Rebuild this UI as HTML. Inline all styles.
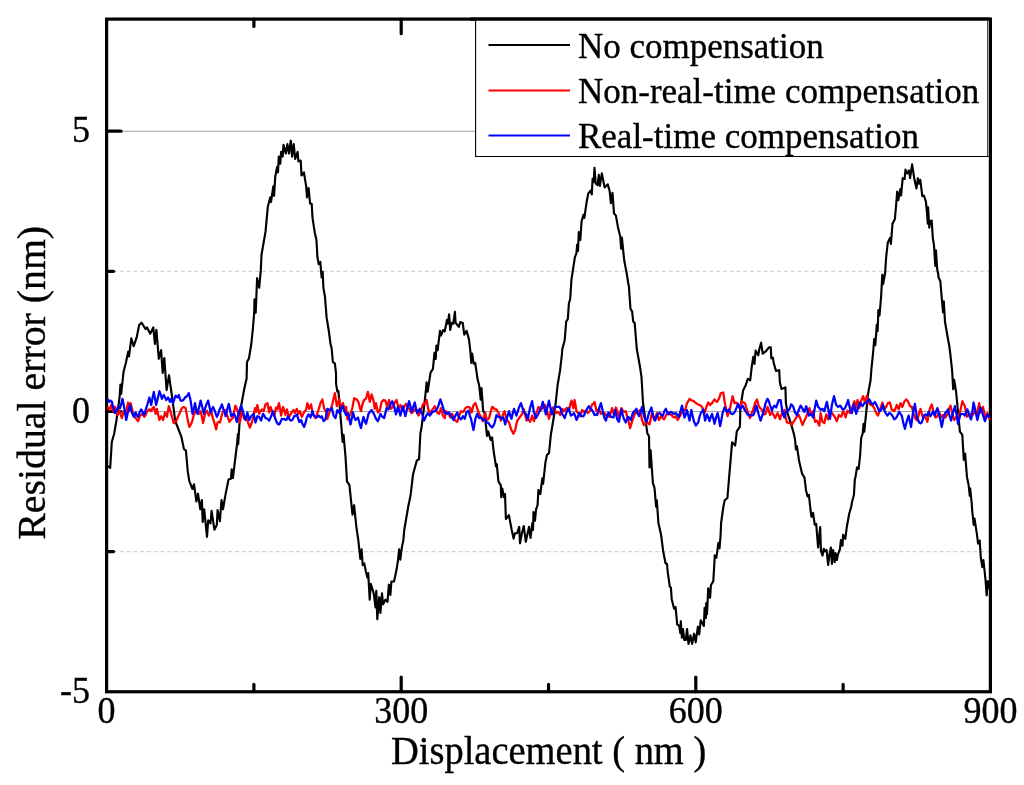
<!DOCTYPE html>
<html><head><meta charset="utf-8"><title>Residual error</title>
<style>
html,body{margin:0;padding:0;background:#fff;}
svg{display:block;}
text{font-family:"Liberation Serif",serif;fill:#000;stroke:#000;stroke-width:0.35px;}
</style></head><body>
<svg width="1024" height="785" viewBox="0 0 1024 785">
<rect x="0" y="0" width="1024" height="785" fill="#ffffff"/>
<!-- grid -->
<line x1="108" y1="131.21" x2="989" y2="131.21" stroke="#a0a0a0" stroke-width="1.1"/>
<line x1="108" y1="411.48" x2="989" y2="411.48" stroke="#a0a0a0" stroke-width="1.1"/>
<line x1="108" y1="271.34" x2="989" y2="271.34" stroke="#d4d4d4" stroke-width="1.1" stroke-dasharray="4 2.777" stroke-dashoffset="1.8"/>
<line x1="108" y1="551.61" x2="989" y2="551.61" stroke="#d4d4d4" stroke-width="1.1" stroke-dasharray="4 2.777" stroke-dashoffset="1.8"/>
<!-- frame -->
<rect x="106.6" y="19.1" width="883.80" height="672.65" fill="none" stroke="#000" stroke-width="3.2"/>
<!-- ticks -->
<g stroke="#000" stroke-width="3.2" stroke-linecap="round">
<line x1="106.6" y1="131.21" x2="121" y2="131.21"/>
<line x1="106.6" y1="411.48" x2="121" y2="411.48"/>
<line x1="106.6" y1="271.34" x2="113.5" y2="271.34"/>
<line x1="106.6" y1="551.61" x2="113.5" y2="551.61"/>
<line x1="401.2" y1="691.75" x2="401.2" y2="677.15"/>
<line x1="401.2" y1="19.1" x2="401.2" y2="33.7"/>
<line x1="695.8" y1="691.75" x2="695.8" y2="677.15"/>
<line x1="695.8" y1="19.1" x2="695.8" y2="33.7"/>
<line x1="253.9" y1="691.75" x2="253.9" y2="684.45"/>
<line x1="253.9" y1="19.1" x2="253.9" y2="26.400000000000002"/>
<line x1="548.5" y1="691.75" x2="548.5" y2="684.45"/>
<line x1="548.5" y1="19.1" x2="548.5" y2="26.400000000000002"/>
<line x1="843.1" y1="691.75" x2="843.1" y2="684.45"/>
<line x1="843.1" y1="19.1" x2="843.1" y2="26.400000000000002"/>
</g>
<!-- curves -->
<polyline fill="none" stroke="#000" stroke-width="2.15" stroke-linejoin="round" points="107.8,466.2 110.2,467.8 111.8,442.0 114.1,434.0 116.5,420.0 119.6,397.2 120.4,384.6 121.2,394.0 123.5,372.1 125.9,362.7 128.2,351.7 129.0,356.4 131.3,338.4 133.7,346.2 136.8,336.8 139.2,325.0 141.5,322.7 145.5,329.0 147.0,327.4 150.2,333.7 153.3,327.4 154.9,343.9 156.4,329.8 158.8,358.8 161.1,350.2 162.7,372.9 164.3,358.0 166.6,390.1 169.0,375.2 172.1,397.2 175.2,420.7 176.0,423.0 181.5,437.2 183.9,449.0 185.9,450.6 187.8,471.7 189.3,481.1 192.5,489.0 194.0,484.3 196.4,501.5 198.0,493.7 200.3,509.3 201.9,500.0 202.7,521.9 204.2,509.3 207.0,536.8 208.2,520.3 210.5,523.4 211.6,510.9 214.4,529.7 216.8,525.0 217.6,510.1 219.9,521.1 221.5,500.0 223.0,509.3 225.4,495.2 228.5,479.6 230.9,478.8 231.7,469.4 232.9,478.0 234.8,462.3 237.1,443.5 237.9,434.1 238.2,444.3 239.5,423.1 241.0,406.6 244.2,389.3 246.6,378.4 247.0,362.0 249.0,358.2 251.3,344.0 252.9,328.4 254.2,312.7 254.5,299.4 255.7,312.7 257.1,278.2 259.2,287.6 260.8,270.4 261.5,254.7 265.5,231.9 267.8,206.8 270.2,197.4 271.0,202.0 273.3,186.4 274.1,195.8 275.2,177.0 277.2,166.8 278.0,172.3 278.8,156.6 280.3,163.7 281.1,151.9 282.7,156.6 283.5,144.9 285.8,153.5 287.4,144.1 289.0,153.5 290.8,140.7 292.1,156.6 293.7,144.1 295.2,159.0 297.6,151.9 298.4,161.3 300.7,160.6 301.5,175.5 303.9,172.3 306.2,186.4 307.0,197.4 308.6,188.0 310.1,203.7 311.7,203.7 312.5,217.8 314.8,232.7 316.4,239.7 317.2,253.0 317.3,256.3 318.7,264.1 320.3,261.8 321.6,277.4 322.7,271.9 323.4,287.6 325.0,297.0 326.6,317.4 328.9,331.5 330.5,344.0 331.6,348.0 332.9,362.0 334.9,363.6 336.0,373.0 336.1,383.9 337.3,391.7 338.4,391.0 340.0,410.5 341.5,427.8 342.6,441.9 343.6,434.8 345.5,456.6 347.0,481.7 349.4,484.9 352.5,514.6 354.1,505.2 356.4,527.2 358.3,540.0 360.3,558.8 361.6,549.4 362.7,565.1 364.3,563.5 365.8,571.3 367.4,577.6 368.2,573.0 369.7,599.6 370.8,583.9 373.7,593.3 375.5,607.4 376.3,590.9 377.3,619.2 379.2,597.2 380.4,612.9 382.0,593.3 383.1,604.3 385.4,599.6 387.5,601.9 388.9,584.7 390.4,594.9 391.4,581.5 394.0,581.5 396.4,570.6 398.0,560.4 399.1,549.4 400.3,559.6 401.9,547.1 403.4,540.0 404.2,530.3 408.2,506.8 410.5,495.8 412.9,475.5 413.6,472.3 416.8,460.6 419.1,459.0 420.4,433.1 421.5,427.8 423.8,409.0 425.4,394.9 426.6,382.3 427.7,391.7 430.6,372.3 432.9,369.2 434.5,352.7 435.7,359.0 436.4,345.6 437.6,350.3 440.0,330.8 441.1,335.5 443.1,330.0 444.7,331.5 447.0,319.8 447.8,323.7 449.1,314.3 450.2,330.0 451.7,322.9 453.3,323.7 454.9,311.9 455.6,322.9 458.8,326.8 460.3,322.1 462.7,322.9 464.3,334.7 466.6,330.8 469.0,339.4 470.5,352.7 471.3,362.9 472.1,353.5 473.7,363.7 475.2,362.9 477.6,379.3 479.2,385.6 480.7,399.7 481.5,388.0 483.1,410.7 484.6,413.0 485.9,425.0 487.0,436.0 488.2,431.3 490.6,439.9 492.1,437.5 493.7,451.6 496.0,466.5 496.8,464.2 498.4,481.4 500.8,485.3 501.2,497.1 502.3,488.5 503.9,497.1 505.0,494.0 505.9,519.0 508.9,515.1 511.7,530.0 513.6,538.6 514.9,533.2 517.2,533.2 519.2,526.9 520.0,543.3 521.9,533.2 523.8,526.1 525.8,541.8 529.0,526.9 530.5,537.9 532.4,523.0 533.0,530.0 533.5,512.0 535.0,520.6 536.0,509.6 537.6,505.0 538.4,490.0 540.3,494.0 542.3,478.3 543.1,483.8 545.4,462.6 547.0,454.8 549.0,453.2 550.9,434.4 552.5,425.0 554.4,413.0 555.7,403.0 557.6,385.0 560.0,370.9 562.0,353.7 562.3,349.0 564.7,340.3 566.2,321.5 567.8,319.2 568.9,303.5 570.2,298.8 571.4,280.0 572.5,272.9 574.9,257.2 576.4,253.3 577.2,244.6 578.0,250.9 578.8,232.1 580.3,239.9 581.6,221.1 583.5,214.9 584.3,218.0 586.6,202.3 588.2,193.7 590.5,190.6 591.8,194.5 592.6,178.8 593.7,181.9 594.5,167.8 595.7,183.5 597.6,185.1 598.8,174.9 599.9,185.9 601.8,173.3 604.6,187.4 607.8,184.3 609.7,191.3 610.9,203.1 612.5,192.9 614.0,213.3 615.9,215.6 618.0,227.4 620.3,236.8 621.1,248.6 621.9,237.6 624.2,260.3 626.6,272.9 628.2,283.0 628.9,286.3 630.5,309.0 632.1,311.3 633.2,321.5 634.7,323.1 636.8,349.0 639.9,366.2 641.5,377.2 643.0,403.0 645.1,417.2 647.4,433.7 649.0,436.0 649.5,467.4 650.6,450.2 652.9,483.1 654.5,487.8 656.1,506.6 656.8,500.3 658.4,523.0 661.1,535.0 663.1,550.7 665.5,563.2 667.0,564.0 667.8,572.6 669.8,586.7 670.9,587.5 671.7,599.3 674.1,608.7 675.6,607.1 677.2,624.3 679.2,625.9 680.3,633.0 680.8,621.2 681.9,637.7 683.0,629.0 684.3,640.0 685.8,640.0 687.1,629.0 688.5,643.9 690.5,635.3 692.1,643.9 694.1,633.7 695.7,642.4 697.9,626.7 699.2,634.5 700.7,620.4 703.9,625.9 704.6,607.9 705.9,618.0 706.2,603.2 707.0,614.2 708.2,588.3 710.1,597.7 710.9,585.2 713.3,581.2 714.8,555.4 716.4,557.7 718.4,542.8 719.5,548.3 720.6,535.0 721.1,523.0 723.4,506.6 724.7,500.3 727.4,498.0 728.9,479.9 732.1,442.3 735.2,445.5 736.8,431.3 739.9,426.6 740.2,415.7 740.4,407.8 743.1,390.5 745.5,385.8 747.8,378.8 750.2,380.3 751.7,367.0 753.3,356.8 754.5,363.9 755.6,350.6 758.3,355.3 759.2,349.8 761.1,342.7 762.7,353.7 765.8,351.3 769.0,347.4 770.8,347.4 771.3,358.4 772.9,357.6 773.7,363.1 776.0,370.9 779.2,370.2 779.9,382.7 781.5,389.0 785.4,387.4 785.9,403.1 787.8,414.0 790.9,423.4 794.0,434.4 795.1,440.0 795.9,449.4 797.0,446.3 799.0,460.4 802.1,473.7 804.5,477.6 806.0,490.2 807.6,496.4 808.9,494.9 810.4,509.0 811.5,516.8 813.1,512.9 814.7,524.6 816.2,523.9 818.1,547.5 820.2,527.0 820.9,550.6 822.5,555.6 823.8,548.8 825.0,551.3 826.6,550.0 828.1,565.0 829.4,555.0 830.9,547.5 831.9,564.0 833.1,550.0 834.7,562.2 835.6,553.1 836.9,560.0 837.8,555.0 840.0,548.8 840.9,540.0 842.5,545.6 843.1,534.7 845.3,538.8 846.8,527.0 849.2,513.7 851.5,505.8 851.8,503.0 853.9,494.9 854.9,478.7 855.4,477.6 857.0,467.4 858.6,469.0 860.1,455.7 861.2,438.0 862.7,433.3 863.5,423.9 864.3,431.7 867.4,400.4 868.2,393.0 870.6,380.0 871.3,370.3 873.2,351.5 874.2,339.0 875.3,345.2 876.8,324.9 877.6,331.1 878.4,310.0 879.5,315.5 881.1,296.6 882.3,274.7 883.1,284.1 885.1,273.0 886.2,256.6 887.8,242.5 890.2,237.8 890.9,244.0 892.5,223.7 894.9,219.0 895.6,211.1 896.4,201.7 897.2,191.5 898.3,200.2 900.3,189.2 901.1,195.5 902.7,178.2 904.6,179.0 905.5,169.6 907.4,173.5 909.0,170.4 910.1,178.2 912.1,164.4 914.5,179.8 916.5,188.4 917.9,178.2 919.2,183.7 920.3,179.8 922.3,196.2 923.9,195.5 925.9,201.7 927.0,212.7 927.8,223.7 928.1,207.2 929.3,227.6 930.1,221.3 931.7,220.5 932.8,237.8 934.0,245.6 935.3,266.0 935.9,250.3 937.2,269.1 938.0,273.0 938.7,277.8 940.3,281.0 941.9,299.8 943.1,312.3 943.8,301.3 945.0,321.7 947.4,335.8 949.4,346.8 950.2,353.0 952.1,370.3 953.2,389.1 954.1,379.7 956.0,391.0 958.3,414.5 959.9,431.7 962.3,434.9 963.8,459.9 965.1,453.6 967.0,477.2 968.5,484.2 969.8,496.0 970.1,488.2 971.7,503.0 972.2,510.7 973.7,524.8 974.5,518.5 976.9,534.2 978.1,543.6 979.7,540.5 980.8,557.7 982.3,567.1 983.4,560.0 985.5,579.6 986.7,595.3 987.8,581.2 988.9,589.0"/>
<polyline fill="none" stroke="#ff0000" stroke-width="2.25" stroke-linejoin="round" points="107.5,406.9 109.4,410.0 111.2,405.0 113.1,411.2 115.0,406.9 116.2,410.4 117.5,415.0 119.4,410.6 120.7,414.9 121.9,418.1 123.8,411.2 125.6,413.8 126.8,408.6 128.1,402.5 130.0,411.2 130.6,403.1 131.8,408.1 133.1,413.8 134.3,415.9 135.6,418.1 136.8,419.6 138.1,421.2 140.0,415.6 141.2,414.9 142.5,413.8 144.4,416.9 145.7,414.9 146.9,411.9 148.8,409.4 150.0,409.7 151.2,411.2 152.5,408.3 153.8,406.9 155.6,413.8 156.9,408.8 158.2,414.9 159.4,420.0 161.2,416.2 163.1,420.0 165.0,412.5 166.9,416.9 168.8,406.2 170.0,409.9 171.2,413.8 172.5,418.9 173.8,423.1 175.0,421.4 176.2,421.2 177.5,418.0 178.8,415.0 180.0,412.6 181.2,409.4 182.5,407.7 183.8,406.9 185.6,408.1 187.5,418.8 189.4,426.9 191.2,423.8 192.5,420.1 193.8,415.0 195.0,412.8 196.2,409.4 197.5,410.8 198.8,413.8 200.6,411.2 201.8,416.4 203.1,423.1 205.0,413.8 206.9,410.6 208.8,415.6 210.0,413.5 211.2,411.2 212.5,416.9 213.8,421.2 215.0,425.1 216.2,429.4 217.5,422.5 218.8,422.0 220.0,422.5 221.2,417.4 222.5,412.5 223.8,410.5 225.0,410.0 226.2,412.7 227.5,416.2 229.4,421.9 230.6,420.3 231.8,419.0 233.0,417.5 234.2,411.1 235.5,405.6 236.8,408.6 238.0,412.5 239.9,422.5 241.8,411.2 243.0,414.6 244.2,418.8 246.1,416.9 248.0,422.5 249.9,427.5 251.8,422.5 253.6,416.2 254.9,408.1 256.1,411.9 257.4,405.0 259.2,413.8 260.5,411.5 261.8,409.4 263.6,411.2 265.5,404.4 267.4,403.1 269.2,412.5 270.5,406.9 272.4,411.9 274.2,416.2 276.1,407.5 277.4,409.4 279.0,403.1 280.1,409.0 281.1,415.6 283.0,406.9 284.2,410.2 285.5,415.0 286.8,409.4 288.0,413.7 289.2,416.9 290.5,414.5 291.8,411.9 293.6,410.0 294.9,413.1 296.8,408.8 298.6,413.8 299.9,411.2 301.8,416.9 303.0,414.6 304.2,411.9 306.1,410.0 307.4,403.1 309.2,408.8 311.1,404.4 313.0,415.0 314.2,416.0 315.5,418.1 316.8,415.4 318.0,411.2 319.2,407.7 320.5,403.1 322.4,399.4 324.2,408.8 326.1,411.2 327.4,418.8 328.9,413.8 330.5,410.0 332.4,403.8 333.6,398.2 334.9,393.1 336.8,406.2 338.0,402.9 339.2,398.8 341.1,408.8 343.0,403.1 344.9,411.2 346.1,406.9 347.4,419.4 349.2,416.2 351.1,412.5 352.4,407.5 354.2,398.1 355.5,399.1 356.8,399.4 358.6,402.5 359.8,407.5 361.0,411.2 362.2,405.0 364.1,400.0 366.0,398.8 367.9,391.9 369.8,401.9 371.6,394.4 373.5,400.6 374.8,408.8 376.0,403.1 377.9,412.5 379.8,410.6 381.6,401.9 383.5,400.0 385.4,400.6 387.2,406.9 389.1,400.0 391.0,408.8 392.9,406.9 394.8,402.5 396.6,400.0 398.5,408.1 400.4,405.0 402.2,410.6 404.1,406.9 406.0,403.8 407.9,406.9 409.8,410.0 411.6,413.1 413.5,411.2 414.8,409.9 416.0,408.8 417.2,412.7 418.5,415.6 419.8,413.1 421.0,410.0 422.9,404.4 424.8,403.8 426.6,400.0 428.5,410.0 430.4,413.1 431.6,410.6 432.9,408.8 434.8,406.2 436.0,409.5 437.2,412.5 439.1,413.8 441.0,408.1 442.9,415.6 444.8,418.1 446.0,411.2 447.2,413.1 448.5,413.8 450.4,417.5 452.2,413.8 453.5,417.5 454.8,420.0 456.0,421.0 457.2,421.9 459.1,416.2 461.0,411.2 462.2,411.7 463.5,411.9 464.8,409.0 466.0,407.5 467.9,406.9 469.8,407.5 471.6,412.5 473.5,405.0 475.4,403.1 477.2,408.1 479.1,413.8 481.0,416.9 482.9,421.2 484.1,416.7 485.4,413.1 486.6,420.0 487.8,419.5 489.0,418.1 490.6,412.4 492.1,406.9 493.4,407.6 494.6,409.4 496.5,409.4 497.8,411.7 499.0,413.8 500.9,420.6 502.8,415.0 504.6,411.2 506.5,418.8 507.8,421.0 509.0,422.5 510.2,426.5 511.5,430.0 513.4,433.8 515.2,430.0 517.1,421.2 518.4,419.1 519.6,417.5 520.9,415.6 522.1,413.8 524.0,409.4 525.2,415.0 526.5,420.6 528.4,419.4 530.2,421.9 532.1,415.6 534.0,421.2 535.9,413.8 537.1,410.8 538.4,406.9 539.6,408.5 540.9,410.0 542.1,408.6 543.4,407.5 545.2,405.0 547.1,411.2 549.0,418.8 550.9,410.6 552.8,407.5 554.6,408.8 556.5,413.1 558.4,411.9 560.2,415.0 562.1,408.8 564.0,411.2 565.2,409.6 566.5,408.1 567.8,408.6 569.0,410.6 570.2,404.9 571.5,400.6 573.4,408.1 574.6,400.0 576.5,411.2 578.4,413.1 580.2,416.2 582.1,410.0 584.0,411.9 585.9,410.6 587.8,413.1 589.6,411.2 590.9,408.1 592.1,404.4 593.4,403.9 594.6,401.9 596.5,411.2 597.8,410.1 599.0,408.8 600.9,413.8 602.1,413.0 603.4,412.5 604.6,413.2 605.9,415.0 607.5,416.0 609.0,416.9 610.5,413.3 612.1,408.1 614.0,415.0 615.9,407.5 617.0,410.0 618.9,416.9 620.1,412.9 621.4,408.1 622.6,410.1 623.9,411.9 625.8,411.2 627.0,416.2 628.2,420.0 630.1,428.1 631.4,423.6 632.6,420.0 633.9,416.6 635.1,413.1 636.4,413.2 637.6,411.9 638.9,411.1 640.1,410.0 642.0,420.0 643.9,425.0 645.5,423.7 647.0,422.5 648.2,423.1 649.5,424.4 650.8,418.5 652.0,412.5 653.2,417.0 654.5,420.0 655.8,415.8 657.0,413.1 658.9,420.0 660.1,418.3 661.4,415.6 662.6,418.0 663.9,419.4 665.1,417.5 666.4,414.4 667.6,413.8 668.9,412.5 670.1,414.2 671.4,415.0 672.6,416.3 673.9,417.5 675.8,416.2 677.6,420.0 678.9,417.9 680.1,415.6 681.4,413.6 682.6,411.9 683.9,410.2 685.1,410.0 687.0,403.1 688.2,401.5 689.5,398.8 690.8,399.8 692.0,400.6 693.2,400.8 694.5,401.9 695.8,402.9 697.0,403.8 698.2,404.4 699.5,405.0 700.8,405.7 702.0,406.9 703.2,409.8 704.5,413.1 706.4,406.9 708.2,402.5 710.1,405.0 712.0,403.1 713.2,401.3 714.5,399.4 715.8,400.8 717.0,401.9 718.9,398.8 720.8,393.1 722.0,393.0 723.2,392.5 725.1,404.4 726.4,410.2 727.6,416.2 728.9,411.4 730.1,408.1 731.4,401.7 732.6,396.2 734.5,403.1 735.8,402.6 737.0,403.1 738.2,405.4 739.5,407.5 740.8,404.9 742.0,401.2 743.5,402.6 745.0,403.1 746.2,407.6 747.5,411.2 748.8,415.2 750.0,418.1 751.2,414.3 752.5,411.2 753.8,407.7 755.0,403.1 756.9,399.4 758.8,406.2 760.0,407.8 761.2,408.8 762.5,410.9 763.8,414.4 765.6,413.8 767.5,406.9 768.8,410.2 770.0,415.0 771.9,412.5 773.5,414.5 775.0,418.1 776.2,416.0 777.5,413.1 778.8,415.8 780.0,419.4 781.2,415.3 782.5,412.5 784.4,410.0 785.6,416.4 786.9,422.5 788.1,422.6 789.4,423.1 790.6,423.4 791.9,425.0 793.1,422.3 794.4,420.6 796.2,417.5 797.5,416.3 798.8,415.0 800.6,419.4 802.5,425.0 804.4,420.6 806.2,416.9 807.3,413.4 808.3,410.7 809.4,408.1 811.2,415.0 813.1,411.2 815.0,421.9 816.9,420.6 818.1,423.4 819.4,425.6 820.6,413.1 822.5,421.9 824.4,423.1 826.2,414.4 828.1,419.4 830.0,410.6 831.2,412.1 832.5,413.8 834.4,416.2 835.6,418.4 836.9,421.2 838.8,415.0 840.0,415.9 841.2,416.9 843.1,411.2 844.4,413.6 845.6,417.5 847.5,410.6 848.8,411.7 850.0,413.1 851.2,409.5 852.5,406.2 854.4,401.2 855.6,408.1 857.5,400.0 859.4,408.1 861.2,400.6 863.1,396.2 865.0,402.5 866.9,395.6 868.8,403.1 870.6,405.0 871.8,405.1 873.0,406.2 874.2,408.1 875.5,411.2 876.8,414.0 878.0,415.6 879.9,410.6 881.1,406.6 882.4,402.5 884.2,409.4 886.1,406.9 888.0,403.1 889.9,402.5 891.8,410.0 893.0,410.1 894.2,411.2 895.5,408.3 896.8,405.0 898.6,409.4 900.5,403.1 902.4,406.9 904.2,401.9 906.1,399.4 908.0,401.2 909.9,406.2 911.8,406.9 913.6,413.8 915.5,418.8 917.4,420.6 919.2,412.5 920.5,408.8 922.4,416.2 923.6,417.1 924.9,416.9 926.1,418.6 927.4,421.9 929.2,411.2 930.5,407.0 931.8,404.4 933.6,412.5 935.5,417.5 937.4,416.2 939.2,411.9 941.1,417.5 943.0,415.0 944.2,415.7 945.5,417.5 946.8,415.4 948.0,412.5 949.2,408.5 950.5,405.6 952.4,413.8 954.2,420.0 955.5,418.4 956.8,416.2 958.6,417.5 960.5,410.0 962.4,401.2 963.6,404.0 964.9,406.2 966.8,416.9 968.0,415.4 969.2,413.8 970.5,414.6 971.8,416.2 973.0,414.5 974.2,411.2 975.5,413.0 976.8,413.8 978.0,408.5 979.2,403.1 981.1,412.5 983.0,406.9 984.2,412.1 985.5,418.1 987.4,413.1 988.6,416.8 989.9,420.0"/>
<polyline fill="none" stroke="#0000ff" stroke-width="2.25" stroke-linejoin="round" points="107.5,398.8 109.4,401.9 110.6,400.6 111.9,401.9 113.1,406.9 115.0,413.1 116.9,410.0 118.1,406.9 120.0,408.1 121.2,404.2 122.5,398.8 124.4,408.8 126.2,420.0 128.1,411.2 130.0,405.0 131.9,412.5 133.8,416.9 135.6,412.5 136.8,415.4 138.1,416.9 139.6,412.4 141.2,409.4 142.5,411.5 143.8,415.0 145.0,412.1 146.2,408.1 147.3,404.9 148.3,401.3 149.4,397.5 151.2,405.0 152.5,398.1 153.8,391.9 155.0,398.6 156.2,405.0 157.3,400.6 158.3,395.9 159.4,391.2 160.7,394.5 161.9,398.8 163.8,395.0 165.0,397.4 166.2,400.0 168.1,397.5 170.0,401.9 171.2,398.8 173.1,403.1 174.3,399.2 175.6,395.6 177.5,397.5 178.8,395.0 180.6,400.6 182.5,400.6 183.8,399.4 185.0,397.5 186.9,396.2 188.8,393.1 190.6,400.6 192.5,413.8 193.8,409.2 195.0,403.1 196.2,409.2 197.5,413.8 199.1,407.3 200.6,400.6 201.7,404.9 202.7,409.0 203.8,413.8 205.0,408.7 206.2,405.0 208.1,400.6 209.3,405.8 210.6,412.5 211.8,409.6 213.1,406.9 214.4,409.9 215.6,413.4 216.9,416.9 218.2,414.1 219.4,410.0 220.7,407.2 221.9,404.4 223.1,408.4 224.4,411.8 225.6,416.2 226.7,411.3 227.7,407.7 228.8,403.8 230.0,409.4 231.2,416.2 233.0,413.8 234.9,415.0 236.8,421.9 238.0,416.6 239.2,411.2 241.1,405.6 243.0,411.2 244.2,416.4 245.5,420.0 247.4,412.5 249.2,420.0 251.1,416.2 252.3,415.3 253.6,413.8 255.5,422.5 257.4,416.2 259.2,416.9 261.1,420.6 263.0,413.8 264.2,415.4 265.5,418.1 267.4,418.8 269.2,420.6 271.1,416.2 273.0,411.2 274.9,417.5 276.8,422.5 278.0,424.1 279.2,424.4 280.5,422.1 281.8,418.8 283.0,419.2 284.2,418.8 285.5,419.8 286.8,419.4 288.0,416.2 289.2,418.8 290.5,420.6 292.4,420.0 294.2,416.2 295.5,415.8 296.8,414.4 298.0,417.9 299.2,421.9 301.1,420.0 302.6,424.2 304.2,426.9 305.5,422.9 306.8,417.5 308.6,414.4 310.5,417.5 312.4,411.2 314.2,416.2 315.5,416.3 316.8,417.5 318.6,415.6 320.5,417.5 321.8,416.2 323.6,421.2 325.5,419.4 327.4,408.8 329.2,410.0 330.5,409.5 331.8,408.1 333.6,415.6 335.5,418.1 337.4,410.0 338.6,411.9 339.9,413.1 341.1,409.3 342.4,405.6 344.2,410.6 346.1,415.0 348.0,413.1 349.2,418.8 350.5,424.4 351.8,418.4 353.0,412.5 354.2,416.9 355.5,420.0 356.8,418.8 358.0,417.5 359.5,423.3 361.0,428.1 362.2,422.3 363.5,416.9 364.8,421.0 366.0,423.8 367.2,419.4 368.5,413.8 370.1,411.8 371.6,410.0 372.9,412.3 374.1,414.4 376.0,418.8 377.9,421.2 379.1,418.2 380.4,413.8 381.6,415.6 382.9,417.2 384.1,418.1 385.4,413.1 386.6,408.1 388.5,409.4 390.4,404.4 392.2,401.2 394.1,406.2 396.0,414.4 397.9,406.9 399.1,410.8 400.4,415.6 401.6,410.6 402.9,406.2 404.1,411.5 405.4,416.2 407.2,408.1 409.1,401.2 410.4,406.0 411.6,411.9 412.7,409.4 413.7,405.3 414.8,402.5 416.0,408.5 417.2,413.1 418.5,410.6 419.8,408.8 421.0,412.0 422.2,413.8 424.1,420.6 426.0,416.2 427.9,413.1 429.8,415.6 431.0,414.1 432.2,411.9 433.5,411.6 434.8,411.2 436.0,410.0 437.2,408.8 438.3,405.9 439.3,402.7 440.4,399.4 441.6,402.8 442.9,406.9 444.8,413.1 446.0,413.0 447.2,413.8 449.1,412.5 451.0,415.6 452.2,417.8 453.5,420.0 455.4,415.6 457.2,412.5 459.1,417.5 461.0,419.4 462.9,416.2 464.8,418.8 466.6,411.9 468.5,410.6 469.8,415.4 471.0,418.8 472.2,424.6 473.5,430.0 475.4,418.8 477.2,413.8 479.1,418.1 481.0,417.5 482.9,420.0 484.8,419.4 486.6,422.5 487.8,422.5 489.0,423.8 490.6,426.2 492.1,427.5 493.4,425.7 494.6,423.1 496.5,415.0 497.8,416.6 499.0,416.9 500.2,417.4 501.5,418.8 503.4,417.5 505.2,424.4 507.1,417.5 509.0,411.2 510.2,415.4 511.5,418.8 512.8,413.1 514.0,408.8 515.2,412.4 516.5,415.6 517.8,411.2 519.0,407.5 520.9,403.1 522.1,406.7 523.4,411.2 524.6,413.1 525.9,413.8 527.8,419.4 529.0,412.8 530.2,407.5 532.1,401.2 534.0,412.5 535.9,418.1 537.1,416.0 538.4,413.8 540.2,410.0 541.5,406.5 542.8,401.9 544.3,407.7 545.9,414.4 547.5,407.0 549.0,400.6 550.5,408.1 552.1,414.4 553.7,410.2 555.2,406.2 556.5,406.9 557.8,406.9 559.6,406.9 560.9,409.6 562.1,413.8 563.4,415.7 564.6,418.1 566.5,412.5 568.4,408.1 569.6,411.3 570.9,415.6 572.5,414.6 574.0,413.1 575.2,415.9 576.5,420.0 577.8,417.3 579.0,413.1 580.2,413.9 581.5,416.2 582.8,416.3 584.0,415.6 585.2,412.0 586.5,410.0 587.8,407.7 589.0,406.2 590.2,408.3 591.5,409.4 593.0,411.7 594.6,415.0 595.9,414.5 597.1,415.0 598.4,411.3 599.6,406.9 600.9,403.1 602.1,408.0 603.4,414.4 604.6,418.3 605.9,420.6 607.1,416.0 608.4,412.5 609.6,414.0 610.9,416.9 612.1,417.0 613.4,417.5 615.2,410.0 617.0,418.8 618.9,421.9 620.1,415.8 621.4,409.4 622.6,414.5 623.9,418.8 625.8,422.5 627.0,419.1 628.2,416.9 629.5,418.2 630.8,420.0 632.0,415.5 633.2,412.5 634.3,411.2 635.3,410.5 636.4,408.8 637.6,412.9 638.9,416.2 640.5,412.2 642.0,406.9 643.2,412.6 644.5,417.5 646.4,421.9 647.6,418.1 648.9,413.1 650.1,410.6 651.4,407.5 653.2,416.2 655.1,420.6 656.4,417.5 657.6,414.4 658.9,413.3 660.1,413.1 661.4,414.9 662.6,416.2 663.7,413.4 664.7,410.6 665.8,408.8 667.0,411.5 668.2,414.4 669.5,413.7 670.8,411.9 672.0,412.3 673.2,413.8 674.5,413.6 675.8,413.1 677.3,414.8 678.9,416.9 680.5,411.3 682.0,405.6 683.2,411.0 684.5,417.5 685.8,414.5 687.0,410.0 688.2,414.9 689.5,420.6 691.4,410.0 692.6,415.8 693.9,421.2 695.8,425.6 697.0,423.9 698.2,422.5 699.5,417.0 700.8,413.1 702.0,411.3 703.2,409.4 705.1,420.6 707.0,414.4 708.2,417.2 709.5,421.2 710.8,416.8 712.0,413.8 713.2,418.1 714.5,423.8 716.0,417.9 717.6,413.1 718.9,419.0 720.1,426.2 721.4,419.9 722.6,413.1 724.5,407.5 725.8,409.7 727.0,411.9 728.9,409.4 730.1,412.4 731.4,413.8 732.6,414.1 733.9,413.1 735.1,411.4 736.4,408.1 738.2,403.8 740.1,409.4 741.4,407.1 742.6,405.6 743.8,408.0 745.0,410.6 746.2,412.1 747.5,414.4 749.0,415.1 750.6,415.6 751.7,415.4 752.7,415.3 753.8,414.4 755.0,410.3 756.2,405.6 757.5,409.9 758.8,415.0 760.6,420.6 761.9,416.7 763.1,413.1 764.4,408.1 765.6,403.1 767.5,398.8 768.8,401.1 770.0,405.0 771.9,410.6 773.1,407.4 774.4,405.6 776.2,407.5 777.5,403.6 778.8,400.0 780.6,400.0 782.5,412.5 784.4,417.5 785.6,413.1 786.9,410.0 788.1,410.1 789.4,409.4 791.2,404.4 793.1,406.2 795.0,412.5 796.9,415.0 798.8,410.0 800.6,405.6 801.9,407.4 803.1,410.0 804.4,411.9 806.2,406.2 807.5,410.3 808.8,415.6 810.6,413.8 811.9,415.1 813.1,417.5 814.7,408.6 816.2,400.6 818.1,406.9 819.4,408.0 820.6,410.0 822.5,408.8 824.4,411.2 825.6,406.6 826.9,401.9 828.5,410.3 830.0,418.8 831.9,405.0 833.0,400.3 834.0,396.2 835.1,400.8 836.2,405.0 838.1,406.9 840.0,405.6 841.2,407.0 842.5,409.4 843.8,409.4 845.0,408.1 846.5,404.8 848.1,400.0 849.4,406.0 850.6,411.2 851.9,413.1 853.8,404.4 855.0,409.0 856.2,413.8 858.1,407.5 860.0,402.5 861.2,404.4 862.5,406.2 864.4,403.1 865.6,402.9 866.9,402.5 868.1,400.2 869.4,399.4 871.2,403.1 873.0,404.4 874.9,401.9 876.1,404.3 877.4,406.9 879.2,411.2 881.1,410.0 883.0,405.0 884.9,411.9 886.1,413.8 887.4,415.6 889.2,413.1 890.5,413.5 891.8,415.0 893.0,416.6 894.2,419.4 895.5,418.6 896.8,416.9 898.0,414.2 899.2,411.9 900.5,413.8 901.8,415.6 903.3,422.9 904.9,428.8 906.8,421.2 908.6,415.6 909.9,421.4 911.1,426.9 913.0,412.5 914.9,403.8 916.8,416.9 918.0,419.4 919.2,422.5 920.5,423.3 921.8,422.5 923.0,418.5 924.2,415.0 925.5,414.5 926.8,415.6 928.6,411.9 930.5,416.2 931.8,414.0 933.0,411.2 934.9,415.6 936.1,411.2 937.4,408.1 939.2,415.0 940.5,420.6 941.8,426.9 943.6,417.5 945.5,412.5 946.8,411.5 948.0,409.4 949.5,415.3 951.1,420.6 953.0,412.5 954.9,406.2 956.5,414.2 958.0,423.8 959.2,419.0 960.5,414.4 961.8,414.0 963.0,413.8 964.9,415.6 966.1,412.5 967.4,409.4 968.6,413.0 969.9,417.5 971.1,419.4 972.4,411.1 973.6,402.5 975.5,411.2 977.4,420.0 979.0,413.1 980.5,407.5 981.8,410.9 983.0,415.0 984.9,421.2 986.1,417.6 987.4,414.4 988.6,416.3 989.9,416.9"/>
<!-- legend -->
<rect x="475.6" y="19.1" width="513.2" height="137.4" fill="#fff"/>
<line x1="470" y1="19.1" x2="990.4" y2="19.1" stroke="#000" stroke-width="3.2"/>
<polyline points="475.6,20.7 475.6,156.5 988.8,156.5" fill="none" stroke="#000" stroke-width="1.1"/>
<line x1="987.8" y1="20.7" x2="987.8" y2="157" stroke="#000" stroke-width="1"/>
<line x1="488.5" y1="45" x2="570" y2="45" stroke="#000" stroke-width="2"/>
<line x1="488.5" y1="90.6" x2="570" y2="90.6" stroke="#ff0000" stroke-width="2"/>
<line x1="488.5" y1="135.4" x2="570" y2="135.4" stroke="#0000ff" stroke-width="2"/>
<text id="lg1" transform="translate(578,57.6) scale(1,1.04)" font-size="35">No compensation</text>
<text id="lg2" transform="translate(578,103.1) scale(1,1.04)" font-size="35">Non-real-time compensation</text>
<text id="lg3" transform="translate(578,148.1) scale(1,1.04)" font-size="35">Real-time compensation</text>
<text class="yt" transform="translate(90,142.4) scale(1,1.04)" font-size="36" text-anchor="end">5</text>
<text class="yt" transform="translate(90,422.7) scale(1,1.04)" font-size="36" text-anchor="end">0</text>
<text class="yt" transform="translate(90,703.0) scale(1,1.04)" font-size="36" text-anchor="end">-5</text>
<text class="xt" transform="translate(106.6,723.1) scale(1,1.04)" font-size="36" text-anchor="middle">0</text>
<text class="xt" transform="translate(401.2,723.1) scale(1,1.04)" font-size="36" text-anchor="middle">300</text>
<text class="xt" transform="translate(695.8,723.1) scale(1,1.04)" font-size="36" text-anchor="middle">600</text>
<text class="xt" transform="translate(990.4,723.1) scale(1,1.04)" font-size="36" text-anchor="middle">900</text>
<text id="xtitle" transform="translate(548.6,763.6) scale(1,1.04)" font-size="38.5" text-anchor="middle">Displacement ( nm )</text>
<text id="ytitle" transform="translate(44.5,382.8) rotate(-90) scale(1,1.02)" font-size="39.8" text-anchor="middle">Residual error (nm)</text>
</svg></body></html>
